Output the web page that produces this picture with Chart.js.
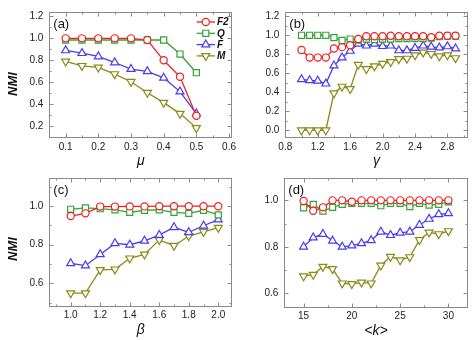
<!DOCTYPE html>
<html><head><meta charset="utf-8">
<script src="https://cdn.jsdelivr.net/npm/chart.js@4"></script>
<style>
html,body{margin:0;padding:0;background:#fff;}
#wrap{position:relative;width:474px;height:340px;background:#fff;}
canvas{position:absolute;left:0;top:0;}
</style></head><body>
<div id="wrap">
<canvas id="ca" width="474" height="340"></canvas>
<canvas id="cb" width="474" height="340"></canvas>
<canvas id="cc" width="474" height="340"></canvas>
<canvas id="cd" width="474" height="340"></canvas>
</div>
<script>
// ---- series names ----
const seriesNames = ['F2', 'Q', 'F', 'M'];

// ---- panel (a): NMI vs mu ----
const muX = [0.1, 0.15, 0.2, 0.25, 0.3, 0.35, 0.4, 0.45, 0.5];
const aF2 = [1.0, 1.0, 1.0, 1.0, 1.0, 0.985, 0.80, 0.65, 0.295];
const aQ  = [0.985, 0.985, 0.985, 0.985, 0.985, 0.985, 0.985, 0.857, 0.687];
const aF  = [0.89, 0.865, 0.835, 0.78, 0.72, 0.70, 0.64, 0.515, 0.315];
const aM  = [0.79, 0.75, 0.735, 0.675, 0.605, 0.505, 0.415, 0.315, 0.185];
const aXTicks = [0.1, 0.2, 0.3, 0.4, 0.5, 0.6];
const aYTicks = [0.2, 0.4, 0.6, 0.8, 1.0, 1.2];

// ---- panel (b): NMI vs gamma ----
const gammaX = [1.0, 1.1, 1.2, 1.3, 1.4, 1.5, 1.6, 1.7, 1.8, 1.9, 2.0, 2.1, 2.2, 2.3, 2.4, 2.5, 2.6, 2.7, 2.8, 2.9];
const bF2 = [0.845, 0.765, 0.765, 0.765, 0.86, 0.875, 0.895, 0.96, 0.99, 0.99, 0.99, 0.995, 0.99, 0.99, 0.99, 0.99, 0.98, 0.995, 0.995, 0.995];
const bQ  = [1.0, 1.0, 1.0, 1.0, 0.975, 0.945, 0.96, 0.95, 0.96, 0.955, 0.96, 0.96, 0.965, 0.965, 0.965, 0.965, 0.97, 0.985, 0.99, 0.99];
const bF  = [0.535, 0.525, 0.52, 0.49, 0.68, 0.765, 0.835, 0.91, 0.89, 0.91, 0.885, 0.89, 0.84, 0.84, 0.865, 0.89, 0.878, 0.87, 0.882, 0.86];
const bM  = [0.0, 0.0, 0.0, 0.0, 0.39, 0.46, 0.435, 0.69, 0.645, 0.675, 0.70, 0.72, 0.75, 0.755, 0.79, 0.82, 0.805, 0.78, 0.79, 0.76];
const bXTicks = [0.8, 1.2, 1.6, 2.0, 2.4, 2.8];
const bYTicks = [0.0, 0.2, 0.4, 0.6, 0.8, 1.0, 1.2];

// ---- panel (c): NMI vs beta ----
const betaX = [1.0, 1.1, 1.2, 1.3, 1.4, 1.5, 1.6, 1.7, 1.8, 1.9, 2.0];
const cF2 = [0.948, 0.962, 0.997, 0.997, 0.998, 0.998, 0.999, 0.999, 0.999, 0.999, 0.999];
const cQ  = [0.983, 0.99, 0.986, 0.98, 0.967, 0.978, 0.98, 0.967, 0.962, 0.978, 0.954];
const cF  = [0.704, 0.692, 0.75, 0.807, 0.80, 0.82, 0.85, 0.89, 0.864, 0.898, 0.93];
const cM  = [0.55, 0.55, 0.67, 0.673, 0.73, 0.75, 0.825, 0.795, 0.845, 0.867, 0.888];
const cXTicks = [1.0, 1.2, 1.4, 1.6, 1.8, 2.0];
const cYTicks = [0.6, 0.8, 1.0];

// ---- panel (d): NMI vs <k> ----
const kX = [15, 16, 17, 18, 19, 20, 21, 22, 23, 24, 25, 26, 27, 28, 29, 30];
const dF2 = [0.997, 0.955, 0.97, 1.0, 1.0, 0.994, 1.0, 1.0, 1.0, 1.0, 1.0, 1.0, 1.0, 1.0, 1.0, 1.0];
const dQ  = [0.968, 0.983, 0.954, 0.97, 0.983, 0.987, 0.987, 0.987, 0.977, 0.987, 0.987, 0.973, 0.987, 0.98, 0.983, 0.994];
const dF  = [0.80, 0.84, 0.855, 0.826, 0.80, 0.805, 0.815, 0.828, 0.865, 0.85, 0.86, 0.865, 0.894, 0.92, 0.94, 0.944];
const dM  = [0.674, 0.68, 0.715, 0.705, 0.643, 0.64, 0.647, 0.643, 0.72, 0.758, 0.743, 0.756, 0.83, 0.862, 0.855, 0.868];
const dXTicks = [15, 20, 25, 30];
const dYTicks = [0.6, 0.8, 1.0];

// ---- styles ----
const COLORS = ['#ee2020', '#36a336', '#4a3cee', '#8a8a18'];
const STYLES = [
  {pointStyle: 'circle', rot: 0, r: 3.6},
  {pointStyle: 'rect', rot: 0, r: 4.3},
  {pointStyle: 'triangle', rot: 0, r: 4.6},
  {pointStyle: 'triangle', rot: 180, r: 4.6}
];
const FONT = '"Liberation Sans", Arial, sans-serif';
Chart.defaults.font.family = FONT;
Chart.defaults.font.size = 10;
Chart.defaults.color = '#222';

const W = 474, H = 340, YW = 40, XH = 30;

const panels = [
  {id: 'ca', xs: muX, ys: [aF2, aQ, aF, aM], area: {l: 49.3, r: 232.3, t: 10, b: 138.3},
   xr: [0.05, 0.61], yr: [0.09, 1.24], xt: aXTicks, yt: aYTicks, xm: 0.05, ym: 0.1,
   xTitle: 'μ', tag: '(a)', nmiY: 84, legend: true, xdec: 1},
  {id: 'cb', xs: gammaX, ys: [bF2, bQ, bF, bM], area: {l: 285.3, r: 467.7, t: 9, b: 138.3},
   xr: [0.8, 3.05], yr: [-0.085, 1.245], xt: bXTicks, yt: bYTicks, xm: 0.2, ym: 0.1,
   xTitle: 'γ', tag: '(b)', nmiY: null, legend: false, xdec: 1},
  {id: 'cc', xs: betaX, ys: [cF2, cQ, cF, cM], area: {l: 49.3, r: 232.3, t: 178.3, b: 306.7},
   xr: [0.855, 2.095], yr: [0.48, 1.143], xt: cXTicks, yt: cYTicks, xm: 0.1, ym: 0.1,
   xTitle: 'β', tag: '(c)', nmiY: 249, legend: false, xdec: 1},
  {id: 'cd', xs: kX, ys: [dF2, dQ, dF, dM], area: {l: 284.3, r: 467.7, t: 178.3, b: 307.7},
   xr: [13, 32], yr: [0.538, 1.095], xt: dXTicks, yt: dYTicks, xm: 2.5, ym: 0.1,
   xTitle: '<k>', tag: '(d)', nmiY: null, legend: false, xdec: 0}
];

function drawMarker(ctx, style, x, y, color) {
  ctx.save();
  ctx.strokeStyle = color; ctx.fillStyle = '#fff'; ctx.lineWidth = 1.2;
  ctx.beginPath();
  const r = style.r;
  if (style.pointStyle === 'circle') {
    ctx.arc(x, y, r, 0, Math.PI * 2);
  } else if (style.pointStyle === 'rect') {
    const s = r * Math.SQRT1_2;
    ctx.rect(x - s, y - s, 2 * s, 2 * s);
  } else {
    const sign = style.rot === 180 ? -1 : 1;
    for (let k = 0; k < 3; k++) {
      const a = -Math.PI / 2 + k * 2 * Math.PI / 3;
      const px = x + r * Math.cos(a), py = y + sign * r * Math.sin(a);
      if (k === 0) ctx.moveTo(px, py); else ctx.lineTo(px, py);
    }
    ctx.closePath();
  }
  ctx.fill(); ctx.stroke();
  ctx.restore();
}

function framePlugin(p) {
  return {
    id: 'frame_' + p.id,
    beforeDatasetsDraw(chart) {
      const ctx = chart.ctx;
      const {left, right, top, bottom} = chart.chartArea;
      const xs = chart.scales.x, ys = chart.scales.y;
      ctx.save();
      ctx.strokeStyle = '#8a8a8a';
      ctx.lineWidth = 1;
      const L = Math.round(left) + 0.5, R = Math.round(right) - 0.5;
      const T = Math.round(top) + 0.5, B = Math.round(bottom) - 0.5;
      ctx.strokeRect(L, T, R - L, B - T);
      ctx.beginPath();
      const isMajor = (v, arr) => arr.some(t => Math.abs(t - v) < 1e-6);
      // x ticks
      const xmin = xs.min, xmax = xs.max;
      for (let v = Math.ceil(xmin / p.xm - 1e-9) * p.xm; v <= xmax + 1e-9; v += p.xm) {
        const vv = Math.round(v * 1000) / 1000;
        const px = Math.round(xs.getPixelForValue(vv)) + 0.5;
        const len = isMajor(vv, p.xt) ? 4 : 2;
        ctx.moveTo(px, B); ctx.lineTo(px, B - len);
        ctx.moveTo(px, T); ctx.lineTo(px, T + len);
      }
      const ymin = ys.min, ymax = ys.max;
      for (let v = Math.ceil(ymin / p.ym - 1e-9) * p.ym; v <= ymax + 1e-9; v += p.ym) {
        const vv = Math.round(v * 1000) / 1000;
        const py = Math.round(ys.getPixelForValue(vv)) + 0.5;
        const len = isMajor(vv, p.yt) ? 4 : 2;
        ctx.moveTo(L, py); ctx.lineTo(L + len, py);
        ctx.moveTo(R, py); ctx.lineTo(R - len, py);
      }
      ctx.stroke();
      ctx.restore();
    },
    afterDraw(chart) {
      const ctx = chart.ctx;
      const {left, right, top} = chart.chartArea;
      ctx.save();
      // panel tag
      ctx.fillStyle = '#111';
      ctx.font = '13px ' + FONT;
      ctx.textBaseline = 'middle';
      ctx.textAlign = 'left';
      ctx.fillText(p.tag, left + 4, top + 12.5);
      // NMI title
      if (p.nmiY !== null) {
        ctx.save();
        ctx.translate(13.5, p.nmiY);
        ctx.rotate(-Math.PI / 2);
        ctx.font = 'italic bold 13px ' + FONT;
        ctx.textAlign = 'center';
        ctx.textBaseline = 'middle';
        ctx.fillText('NMI', 0, 0);
        ctx.restore();
      }
      // legend
      if (p.legend) {
        for (let i = 0; i < seriesNames.length; i++) {
          const y = top + 10 + i * 11.3;
          ctx.strokeStyle = COLORS[i];
          ctx.lineWidth = 1.3;
          ctx.beginPath();
          ctx.moveTo(right - 35.6, y); ctx.lineTo(right - 17.3, y);
          ctx.stroke();
          drawMarker(ctx, STYLES[i], right - 26.5, y, COLORS[i]);
          ctx.fillStyle = '#111';
          ctx.font = 'italic bold 10px ' + FONT;
          ctx.textAlign = 'left';
          ctx.textBaseline = 'middle';
          ctx.fillText(seriesNames[i], right - 15.3, y + 0.5);
        }
      }
      ctx.restore();
    }
  };
}

panels.forEach(p => {
  const datasets = p.ys.map((arr, i) => ({
    label: seriesNames[i],
    data: p.xs.map((x, j) => ({x: x, y: arr[j]})),
    borderColor: COLORS[i],
    backgroundColor: '#fff',
    pointBackgroundColor: '#fff',
    pointBorderColor: COLORS[i],
    pointStyle: STYLES[i].pointStyle,
    pointRotation: STYLES[i].rot,
    pointRadius: STYLES[i].r,
    pointBorderWidth: 1.2,
    borderWidth: 1.3,
    tension: 0,
    fill: false
  }));
  new Chart(document.getElementById(p.id), {
    type: 'line',
    data: {datasets},
    plugins: [framePlugin(p)],
    options: {
      responsive: false,
      animation: false,
      events: [],
      layout: {padding: {
        left: p.area.l - YW,
        right: W - p.area.r,
        top: p.area.t,
        bottom: H - p.area.b - XH
      }},
      plugins: {legend: {display: false}, tooltip: {enabled: false}},
      scales: {
        x: {
          type: 'linear', min: p.xr[0], max: p.xr[1],
          afterBuildTicks: s => { s.ticks = p.xt.map(v => ({value: v})); },
          afterFit: s => { s.height = XH; s.paddingLeft = 0; s.paddingRight = 0; },
          grid: {display: false, drawTicks: false},
          border: {display: false},
          ticks: {padding: 3, autoSkip: false, maxRotation: 0, color: '#222',
                  callback: v => Number(v).toFixed(p.xdec)},
          title: {display: true, text: p.xTitle, color: '#111',
                  font: {size: 14, style: 'italic', lineHeight: 1}, padding: 0}
        },
        y: {
          type: 'linear', min: p.yr[0], max: p.yr[1],
          afterBuildTicks: s => { s.ticks = p.yt.map(v => ({value: v})); },
          afterFit: s => { s.width = YW; },
          grid: {display: false, drawTicks: false},
          border: {display: false},
          ticks: {padding: 6, autoSkip: false, color: '#222',
                  callback: v => Number(v).toFixed(1)}
        }
      }
    }
  });
});
</script>
</body></html>
